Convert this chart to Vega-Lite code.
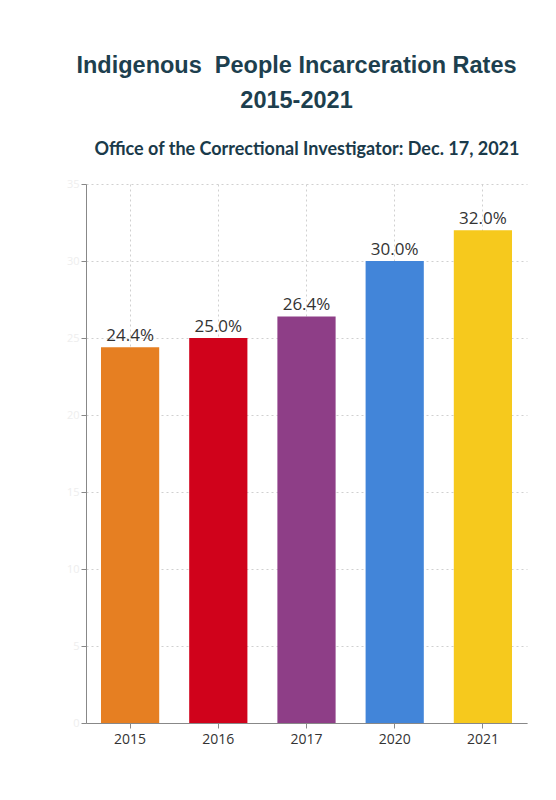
{
  "$schema": "https://vega.github.io/schema/vega-lite/v6.json",
  "autosize": {"type": "none"},
  "padding": {"left": 86, "top": 184, "right": 29, "bottom": 77},
  "width": 441,
  "height": 539,
  "background": "white",
  "title": {
    "text": ["Indigenous\u00a0 People Incarceration Rates", "2015-2021"],
    "anchor": "middle",
    "dx": -10,
    "font": "Liberation Sans",
    "fontSize": 23.5,
    "fontWeight": "bold",
    "color": "#1d3f4e",
    "lineHeight": 35,
    "offset": 28
  },
  "config": {
    "view": {"stroke": null},
    "axis": {
      "gridColor": "#d0d0d0",
      "gridDash": [2, 3],
      "gridWidth": 1,
      "domainColor": "#888888",
      "tickColor": "#888888",
      "tickSize": 5
    }
  },
  "data": {
    "values": [
      {"year": "2015", "rate": 24.4},
      {"year": "2016", "rate": 25.0},
      {"year": "2017", "rate": 26.4},
      {"year": "2020", "rate": 30.0},
      {"year": "2021", "rate": 32.0}
    ]
  },
  "transform": [
    {"calculate": "format(datum.rate, '.1f') + '%'", "as": "label"}
  ],
  "resolve": {"axis": {"x": "independent"}},
  "layer": [
    {
      "mark": {"type": "bar"},
      "encoding": {
        "x": {
          "field": "year",
          "type": "nominal",
          "scale": {"paddingInner": 0.34, "paddingOuter": 0.17},
          "axis": {
            "title": null,
            "labelAngle": 0,
            "grid": true,
            "bandPosition": 0.5,
            "labelFont": "Open Sans",
            "labelFontSize": 14,
            "labelColor": "#333333",
            "labelPadding": 4
          }
        },
        "y": {
          "field": "rate",
          "type": "quantitative",
          "scale": {"domain": [0, 35]},
          "axis": {
            "title": null,
            "values": [0, 5, 10, 15, 20, 25, 30, 35],
            "labelColor": "#eeeeee",
            "labelFont": "Open Sans",
            "labelFontSize": 11,
            "grid": true
          }
        },
        "color": {
          "field": "year",
          "type": "nominal",
          "scale": {
            "domain": ["2015", "2016", "2017", "2020", "2021"],
            "range": ["#e67f22", "#d0021b", "#8e3e87", "#4285d9", "#f6c91d"]
          },
          "legend": null
        }
      }
    },
    {
      "mark": {
        "type": "text",
        "baseline": "bottom",
        "dy": -2,
        "font": "Open Sans",
        "fontSize": 17,
        "color": "#333333"
      },
      "encoding": {
        "x": {
          "field": "year",
          "type": "nominal",
          "axis": {
            "orient": "top",
            "title": "Office of the Correctional Investigator: Dec. 17, 2021",
            "titleFont": "Lato",
            "titleFontSize": 18,
            "titleFontWeight": "bold",
            "titleColor": "#1a3a4a",
            "titlePadding": 26,
            "domain": false,
            "ticks": false,
            "labels": false,
            "grid": false
          }
        },
        "y": {"field": "rate", "type": "quantitative"},
        "text": {"field": "label", "type": "nominal"}
      }
    }
  ]
}
